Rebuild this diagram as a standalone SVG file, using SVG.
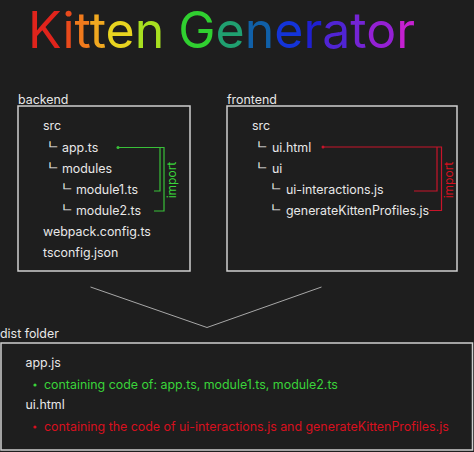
<svg xmlns="http://www.w3.org/2000/svg" width="474" height="452" viewBox="0 0 474 452">
<style>
text{font-family:Inter,"Liberation Sans",sans-serif;font-size:12.4px;fill:#e8e8e8}
.box{fill:none;stroke:#d0d0d0;stroke-width:1.5}
.tick{font-family:"Noto Sans CJK SC",sans-serif;font-size:14px;fill:#d8d8d8;stroke:#d8d8d8;stroke-width:0.5}
.g{stroke:#39c039;stroke-width:1.2;fill:none}
.r{stroke:#c8142a;stroke-width:1.2;fill:none}
.gt{fill:#3ad43a}
.rt{fill:#d8101e}
</style>
<rect width="474" height="452" fill="#1e1e1e"/>
<g id="title">
<text x="28" y="47.5" style="font-size:50px"><tspan fill="#e0241c">K</tspan><tspan fill="#e84a1c">i</tspan><tspan fill="#f07a1c">t</tspan><tspan fill="#f0a820">t</tspan><tspan fill="#e8d420">e</tspan><tspan fill="#a8e020">n</tspan> <tspan fill="#30d030">G</tspan><tspan fill="#20a070">e</tspan><tspan fill="#1060a8">n</tspan><tspan fill="#1434d8">e</tspan><tspan fill="#2020d0">r</tspan><tspan fill="#5024d4">a</tspan><tspan fill="#7424d4">t</tspan><tspan fill="#9420d4">o</tspan><tspan fill="#c420d0">r</tspan></text>
</g>
<g id="backend">
<text x="18" y="104">backend</text>
<rect class="box" x="18" y="106" width="172" height="165"/>
<text x="43" y="130">src</text>
<text class="tick" transform="translate(43,149.5) scale(1,0.65)">└</text><text x="62" y="152">app.ts</text>
<text class="tick" transform="translate(43,170.5) scale(1,0.65)">└</text><text x="62" y="173">modules</text>
<text class="tick" transform="translate(57,191.5) scale(1,0.65)">└</text><text x="76" y="194">module1.ts</text>
<text class="tick" transform="translate(57,212.5) scale(1,0.65)">└</text><text x="76" y="215">module2.ts</text>
<text x="43" y="236">webpack.config.ts</text>
<text x="43" y="257">tsconfig.json</text>
</g>
<g id="frontend">
<text x="227" y="104">frontend</text>
<rect class="box" x="227" y="106" width="230" height="165"/>
<text x="252" y="130">src</text>
<text class="tick" transform="translate(252,149.5) scale(1,0.65)">└</text><text x="272" y="152">ui.html</text>
<text class="tick" transform="translate(252,170.5) scale(1,0.65)">└</text><text x="272" y="173">ui</text>
<text class="tick" transform="translate(266,191.5) scale(1,0.65)">└</text><text x="286" y="194">ui-interactions.js</text>
<text class="tick" transform="translate(266,212.5) scale(1,0.65)">└</text><text x="286" y="215">generateKittenProfiles.js</text>
</g>
<g id="connectors">
<circle cx="118" cy="147.5" r="1.5" fill="#39c039"/>
<path class="g" d="M118,147.5H164V211H154"/>
<path class="g" d="M160,147.5V191H154"/>
<text class="gt" transform="translate(175.5,180) rotate(-90)" text-anchor="middle" style="font-size:12px">import</text>
<circle cx="323" cy="147" r="1.5" fill="#c8142a"/>
<path class="r" d="M323,147H441.5V210.5H429"/>
<path class="r" d="M437,147V191H414"/>
<text class="rt" transform="translate(453,180) rotate(-90)" text-anchor="middle" style="font-size:12px">import</text>
<path d="M90.5,287L207,327.5L321.5,287" fill="none" stroke="#a8a8a8" stroke-width="1"/>
</g>
<g id="dist">
<text x="0" y="338">dist folder</text>
<rect class="box" x="1" y="343" width="471.5" height="107"/>
<text x="25.5" y="367">app.js</text>
<circle cx="35" cy="385" r="1.6" fill="#3ad43a"/>
<text class="gt" x="44" y="388.5">containing code of: app.ts, module1.ts, module2.ts</text>
<text x="25.5" y="409">ui.html</text>
<circle cx="35" cy="427" r="1.6" fill="#d8101e"/>
<text class="rt" x="44" y="430.5">containing the code of ui-interactions.js and generateKittenProfiles.js</text>
</g>
</svg>
